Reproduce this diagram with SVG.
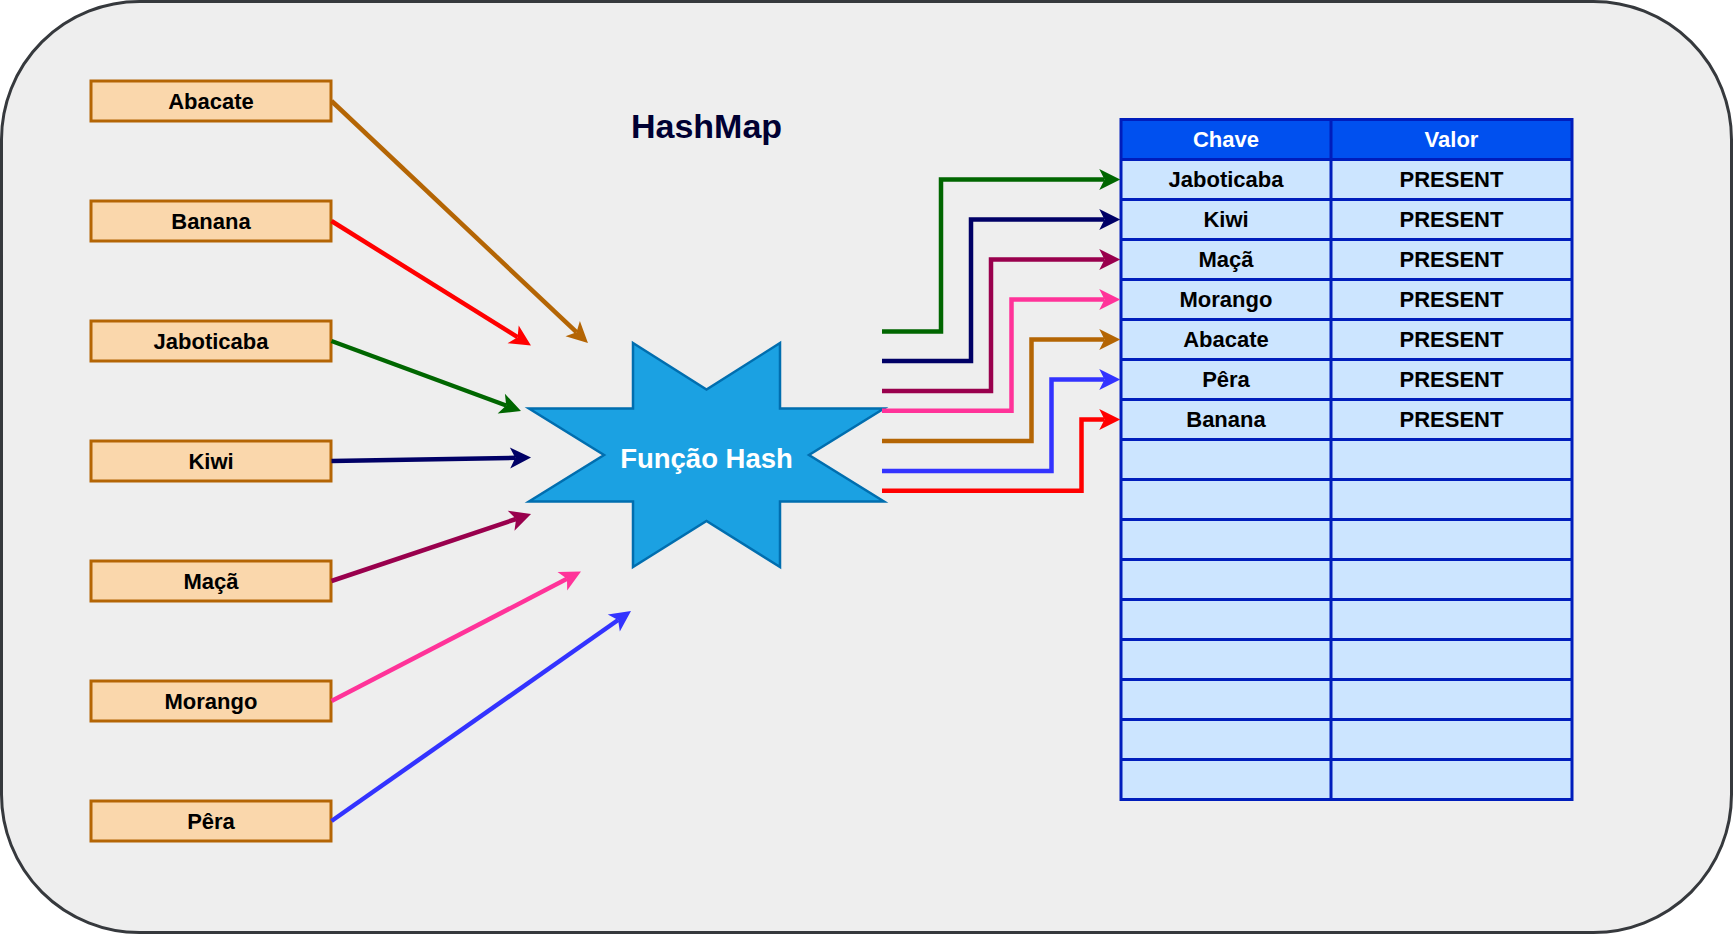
<svg xmlns="http://www.w3.org/2000/svg" width="1733" height="934" viewBox="0 0 1733 934">
<style>
.t{font-family:"Liberation Sans",Arial,Helvetica,sans-serif;font-weight:bold;text-anchor:middle}
.box{fill:#fad7ac;stroke:#b46504;stroke-width:3}
.lbl{font-size:22px;fill:#000000}
.c{fill:none;stroke-width:4.5}
.grid{stroke:#001dbc;stroke-width:3;fill:none}
</style>
<defs>
<marker id="mOrange" markerUnits="userSpaceOnUse" markerWidth="40" markerHeight="40" refX="0" refY="0" orient="auto" overflow="visible"><path d="M15.75,0 L-5.25,-10.5 L0,0 L-5.25,10.5 Z" fill="#b46504"/></marker>
<marker id="mRed" markerUnits="userSpaceOnUse" markerWidth="40" markerHeight="40" refX="0" refY="0" orient="auto" overflow="visible"><path d="M15.75,0 L-5.25,-10.5 L0,0 L-5.25,10.5 Z" fill="#ff0000"/></marker>
<marker id="mGreen" markerUnits="userSpaceOnUse" markerWidth="40" markerHeight="40" refX="0" refY="0" orient="auto" overflow="visible"><path d="M15.75,0 L-5.25,-10.5 L0,0 L-5.25,10.5 Z" fill="#006600"/></marker>
<marker id="mNavy" markerUnits="userSpaceOnUse" markerWidth="40" markerHeight="40" refX="0" refY="0" orient="auto" overflow="visible"><path d="M15.75,0 L-5.25,-10.5 L0,0 L-5.25,10.5 Z" fill="#000066"/></marker>
<marker id="mMaroon" markerUnits="userSpaceOnUse" markerWidth="40" markerHeight="40" refX="0" refY="0" orient="auto" overflow="visible"><path d="M15.75,0 L-5.25,-10.5 L0,0 L-5.25,10.5 Z" fill="#99004d"/></marker>
<marker id="mPink" markerUnits="userSpaceOnUse" markerWidth="40" markerHeight="40" refX="0" refY="0" orient="auto" overflow="visible"><path d="M15.75,0 L-5.25,-10.5 L0,0 L-5.25,10.5 Z" fill="#ff3399"/></marker>
<marker id="mBlue" markerUnits="userSpaceOnUse" markerWidth="40" markerHeight="40" refX="0" refY="0" orient="auto" overflow="visible"><path d="M15.75,0 L-5.25,-10.5 L0,0 L-5.25,10.5 Z" fill="#3333ff"/></marker>
</defs>

<g id="container">
<rect x="1.5" y="1.5" width="1730" height="931" rx="138" ry="138" fill="#eeeeee" stroke="#36393d" stroke-width="3"/>
</g>

<g id="title">
<text class="t" x="706.5" y="138" font-size="34" fill="#000033">HashMap</text>
</g>

<g id="node-abacate"><rect class="box" x="91" y="81" width="240" height="40"/><text class="t lbl" x="211" y="108.5">Abacate</text></g>
<g id="node-banana"><rect class="box" x="91" y="201" width="240" height="40"/><text class="t lbl" x="211" y="228.5">Banana</text></g>
<g id="node-jaboticaba"><rect class="box" x="91" y="321" width="240" height="40"/><text class="t lbl" x="211" y="348.5">Jaboticaba</text></g>
<g id="node-kiwi"><rect class="box" x="91" y="441" width="240" height="40"/><text class="t lbl" x="211" y="468.5">Kiwi</text></g>
<g id="node-maca"><rect class="box" x="91" y="561" width="240" height="40"/><text class="t lbl" x="211" y="588.5">Maçã</text></g>
<g id="node-morango"><rect class="box" x="91" y="681" width="240" height="40"/><text class="t lbl" x="211" y="708.5">Morango</text></g>
<g id="node-pera"><rect class="box" x="91" y="801" width="240" height="40"/><text class="t lbl" x="211" y="828.5">Pêra</text></g>

<g id="node-hash">
<polygon points="633,343 706.5,389.5 780,343 780,408.5 884,408.5 809,455 884,501.5 780,501.5 780,567 706.5,521 633,567 633,501.5 529,501.5 604,455 529,408.5 633,408.5" fill="#1ba1e2" stroke="#006eaf" stroke-width="2.5" stroke-linejoin="miter"/>
<text class="t" x="706.5" y="468" font-size="27.5" fill="#ffffff">Função Hash</text>
</g>

<g id="node-table">
<rect x="1121" y="119.5" width="451" height="680" fill="#cce5ff"/>
<rect x="1121" y="119.5" width="451" height="40" fill="#0050ef"/>
<g class="grid">
<rect x="1121" y="119.5" width="451" height="680"/>
<line x1="1331" y1="119.5" x2="1331" y2="799.5"/>
<line x1="1121" y1="159.5" x2="1572" y2="159.5"/>
<line x1="1121" y1="199.5" x2="1572" y2="199.5"/>
<line x1="1121" y1="239.5" x2="1572" y2="239.5"/>
<line x1="1121" y1="279.5" x2="1572" y2="279.5"/>
<line x1="1121" y1="319.5" x2="1572" y2="319.5"/>
<line x1="1121" y1="359.5" x2="1572" y2="359.5"/>
<line x1="1121" y1="399.5" x2="1572" y2="399.5"/>
<line x1="1121" y1="439.5" x2="1572" y2="439.5"/>
<line x1="1121" y1="479.5" x2="1572" y2="479.5"/>
<line x1="1121" y1="519.5" x2="1572" y2="519.5"/>
<line x1="1121" y1="559.5" x2="1572" y2="559.5"/>
<line x1="1121" y1="599.5" x2="1572" y2="599.5"/>
<line x1="1121" y1="639.5" x2="1572" y2="639.5"/>
<line x1="1121" y1="679.5" x2="1572" y2="679.5"/>
<line x1="1121" y1="719.5" x2="1572" y2="719.5"/>
<line x1="1121" y1="759.5" x2="1572" y2="759.5"/>
</g>
<g class="t" font-size="22">
<text x="1226" y="147" fill="#ffffff">Chave</text>
<text x="1451.5" y="147" fill="#ffffff">Valor</text>
<text x="1226" y="187" fill="#000000">Jaboticaba</text>
<text x="1451.5" y="187" fill="#000000">PRESENT</text>
<text x="1226" y="227" fill="#000000">Kiwi</text>
<text x="1451.5" y="227" fill="#000000">PRESENT</text>
<text x="1226" y="267" fill="#000000">Maçã</text>
<text x="1451.5" y="267" fill="#000000">PRESENT</text>
<text x="1226" y="307" fill="#000000">Morango</text>
<text x="1451.5" y="307" fill="#000000">PRESENT</text>
<text x="1226" y="347" fill="#000000">Abacate</text>
<text x="1451.5" y="347" fill="#000000">PRESENT</text>
<text x="1226" y="387" fill="#000000">Pêra</text>
<text x="1451.5" y="387" fill="#000000">PRESENT</text>
<text x="1226" y="427" fill="#000000">Banana</text>
<text x="1451.5" y="427" fill="#000000">PRESENT</text>
</g>
</g>

<g id="connectors">
<path class="c" d="M331.5,101 L576.5,332.2" stroke="#b46504" marker-end="url(#mOrange)"/>
<path class="c" d="M331.5,221 L517.6,337.2" stroke="#ff0000" marker-end="url(#mRed)"/>
<path class="c" d="M331.5,341 L506.2,405.5" stroke="#006600" marker-end="url(#mGreen)"/>
<path class="c" d="M331.5,461 L515.3,457.8" stroke="#000066" marker-end="url(#mNavy)"/>
<path class="c" d="M331.5,581 L516.1,519" stroke="#99004d" marker-end="url(#mMaroon)"/>
<path class="c" d="M331.5,701 L567,578.8" stroke="#ff3399" marker-end="url(#mPink)"/>
<path class="c" d="M331.5,821 L618.1,620" stroke="#3333ff" marker-end="url(#mBlue)"/>

<path class="c" d="M882,331.5 H941 V179.5 H1104.5" stroke="#006600" marker-end="url(#mGreen)"/>
<path class="c" d="M882,361 H971 V219.5 H1104.5" stroke="#000066" marker-end="url(#mNavy)"/>
<path class="c" d="M882,391 H991 V259.5 H1104.5" stroke="#99004d" marker-end="url(#mMaroon)"/>
<path class="c" d="M882,410.7 H1011.5 V299.5 H1104.5" stroke="#ff3399" marker-end="url(#mPink)"/>
<path class="c" d="M882,441 H1031.5 V339.5 H1104.5" stroke="#b46504" marker-end="url(#mOrange)"/>
<path class="c" d="M882,471 H1051.5 V379.5 H1104.5" stroke="#3333ff" marker-end="url(#mBlue)"/>
<path class="c" d="M882,490.7 H1081.5 V419.5 H1104.5" stroke="#ff0000" marker-end="url(#mRed)"/>
</g>
</svg>
